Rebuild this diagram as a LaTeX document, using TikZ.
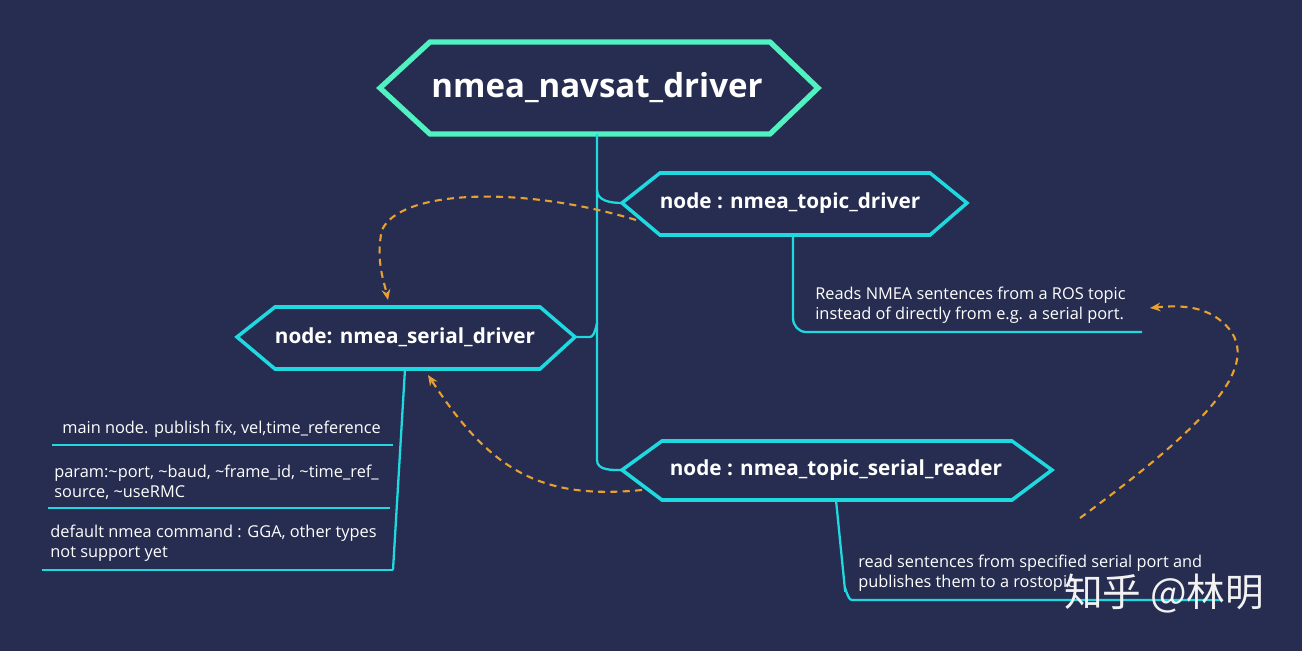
\documentclass[tikz,border=0pt]{standalone}
\usepackage{fontspec}
\setmainfont{Open Sans}
\newfontfamily\cjk{Noto Sans CJK SC}
\usetikzlibrary{arrows.meta}
\definecolor{bg}{HTML}{262D50}
\definecolor{mint}{HTML}{4FF2C0}
\definecolor{cy}{HTML}{1FD9E0}
\definecolor{org}{HTML}{E8A030}
\begin{document}
\begin{tikzpicture}[x=0.02cm,y=-0.02cm,
  hexa/.style={draw=cy,line width=2pt,line join=miter},
  conn/.style={draw=cy,line width=1.3pt},
  lbl/.style={text=white,font=\bfseries\fontsize{11.8}{13}\selectfont},
  note/.style={text=white,font=\fontsize{9.3}{11.6}\selectfont,align=left,anchor=west,inner sep=0pt},
  odash/.style={draw=org,line width=1.2pt,dash pattern=on 4pt off 3pt,-{Stealth[length=6pt,width=5pt]}}]
\fill[bg] (0,0) rectangle (1302,651);
\useasboundingbox (0,0) rectangle (1302,651);
% main
\draw[draw=mint,line width=3pt,line join=miter] (380,88)--(430,42)--(770,42)--(818,88)--(770,134)--(430,134)--cycle;
\node[text=white,font=\bfseries\fontsize{18.8}{20}\selectfont] (main) at (597,88) {nmea\_navsat\_driver};
% hexagons
\draw[hexa] (622,203)--(660,173)--(930,173)--(967,203)--(930,235)--(660,235)--cycle;
\node[lbl] (td) at (790,203) {node : nmea\_topic\_driver};
\draw[hexa] (237,337)--(275,307)--(540,307)--(575,337)--(540,369)--(275,369)--cycle;
\node[lbl] (sd) at (405,337) {node: nmea\_serial\_driver};
\draw[hexa] (622,470)--(662,441)--(1012,441)--(1052,470)--(1012,500)--(662,500)--cycle;
\node[lbl] (tsr) at (836,470) {node : nmea\_topic\_serial\_reader};
% trunk
\coordinate (t0) at (597,134);
\draw[conn] (t0)--(597,460) to[out=-90,in=180] (622,470);
\draw[conn] (597,190) to[out=-90,in=180] (622,203);
\draw[conn] (575,337)--(590,337) to[out=0,in=90] (597,325);
% topic driver note
\draw[conn] (793,235)--(793,318) to[out=-90,in=180] (806,332)--(1142,332);
\node[note] (n1) at (815,305) {Reads NMEA sentences from a ROS topic\\instead of directly from e.g. a serial port.};
% serial reader note
\draw[conn] (836,500)--(845,590) to[out=85,in=180] (852,600)--(1222,600);
\node[note] (n2) at (858,573) {read sentences from specified serial port and\\publishes them to a rostopic};
% serial driver notes
\draw[conn] (405,369)--(393,570);
\draw[conn] (52,445)--(393,445);
\draw[conn] (48,508)--(390,508);
\draw[conn] (42,570)--(393,570);
\node[note] (a1) at (62,429) {main node. publish fix, vel,time\_reference};
\node[note] (a2) at (54,482) {param:\textasciitilde port, \textasciitilde baud, \textasciitilde frame\_id, \textasciitilde time\_ref\_\\source, \textasciitilde useRMC};
\node[note] (a3) at (50,543) {default nmea command : GGA, other types\\not support yet};
% dashed arrows
\draw[odash] (636,220) .. controls (520,185) and (400,190) .. (382,230) .. controls (375,260) and (385,285) .. (388,300);
\draw[odash] (642,490) .. controls (540,500) and (490,470) .. (428,375);
\draw[odash] (1080,518) .. controls (1200,430) and (1260,370) .. (1230,330) .. controls (1210,305) and (1180,305) .. (1150,308);
\node[text=white!90!gray,font=\cjk\fontsize{22}{24}\selectfont] (wm) at (1164,594) {知乎 @林明};
\end{tikzpicture}
\end{document}
